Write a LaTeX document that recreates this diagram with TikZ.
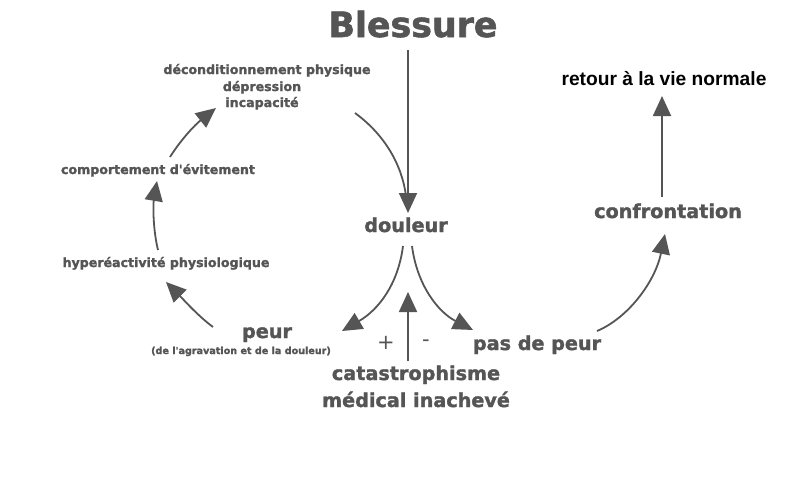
\documentclass[tikz,border=0pt]{standalone}
\usepackage{fontspec}
\setmainfont{DejaVu Sans}[BoldFeatures={FakeBold=1.6}]
\newfontfamily\arialb{Liberation Sans}
\usetikzlibrary{arrows.meta}
\definecolor{ink}{HTML}{555555}
\tikzset{
  lbl/.style={text=ink, font=\bfseries, inner sep=0pt, anchor=base},
  small/.style={lbl, font=\bfseries\fontsize{12.6}{14}\selectfont},
  big/.style={lbl, font=\bfseries\fontsize{19.2}{22}\selectfont},
  tipfill/.tip={Triangle[width=18pt,length=20pt]},
  arr/.style={draw=ink, line width=1.8pt, -tipfill},
  plain/.style={draw=ink, line width=1.8pt}
}
\begin{document}
\begin{tikzpicture}[x=1pt,y=-1pt]
\useasboundingbox[fill=white] (0,0) rectangle (799,482);
% text nodes
\node[lbl, font=\bfseries\fontsize{34.8}{40}\selectfont] (bless) at (413,37) {Blessure};
\node[small] (dec) at (267,74) {déconditionnement physique};
\node[small] (dep) at (262,91) {dépression};
\node[small] (inc) at (262,107) {incapacité};
\node[small] (comp) at (158,174) {comportement d\textquotesingle évitement};
\node[small] (hyper) at (166,267) {hyperéactivité physiologique};
\node[big] (peur) at (267,338) {peur};
\node[lbl, font=\bfseries\fontsize{9.6}{11}\selectfont] (peurx) at (241,354) {(de l\textquotesingle agravation et de la douleur)};
\node[big] (doul) at (406,232) {douleur};
\node[big] (pasp) at (537,350) {pas de peur};
\node[big] (cata) at (416,380) {catastrophisme};
\node[big] (medi) at (416,407) {médical inachevé};
\node[big] (conf) at (668,218) {confrontation};
\node[lbl, text=black, font=\arialb\bfseries\fontsize{19.2}{22}\selectfont] (ret) at (664,85) {retour à la vie normale};
\node[text=ink, inner sep=0pt, font=\fontsize{21}{24}\selectfont] (plus) at (386,343) {+};
\node[text=ink, inner sep=0pt, font=\fontsize{21}{24}\selectfont] (minus) at (426,343) {-};
% connector end points
\coordinate (b1) at (408,50);
\coordinate (b2) at (408,213);
\coordinate (d1) at (355,113);
\coordinate (d2) at (406,196);
\coordinate (dl) at (403,246);
\coordinate (dr) at (412,246);
\coordinate (pl) at (342,331);
\coordinate (pr) at (473,330);
\coordinate (c1) at (408,361);
\coordinate (c2) at (408,292);
\coordinate (q1) at (597,331);
\coordinate (q2) at (665,234);
\coordinate (f1) at (662,197);
\coordinate (f2) at (662,96);
\coordinate (e1) at (213,327);
\coordinate (e2) at (166,282);
\coordinate (h1) at (158,250);
\coordinate (h2) at (157,181);
\coordinate (k1) at (170,157);
\coordinate (k2) at (216,108);
% connectors
\draw[arr] (b1) -- (b2);
\draw[plain] (d1) .. controls (385,135) and (402,165) .. (d2);
\draw[arr] (dl) .. controls (398,285) and (378,310) .. (pl);
\draw[arr] (dr) .. controls (417,285) and (438,312) .. (pr);
\draw[arr] (c1) -- (c2);
\draw[arr] (q1) .. controls (628,318) and (655,282) .. (q2);
\draw[arr] (f1) -- (f2);
\draw[arr] (e1) .. controls (198,316) and (182,298) .. (e2);
\draw[arr] (h1) .. controls (153,230) and (153,205) .. (h2);
\draw[arr] (k1) .. controls (182,138) and (196,124) .. (k2);
\end{tikzpicture}
\end{document}
